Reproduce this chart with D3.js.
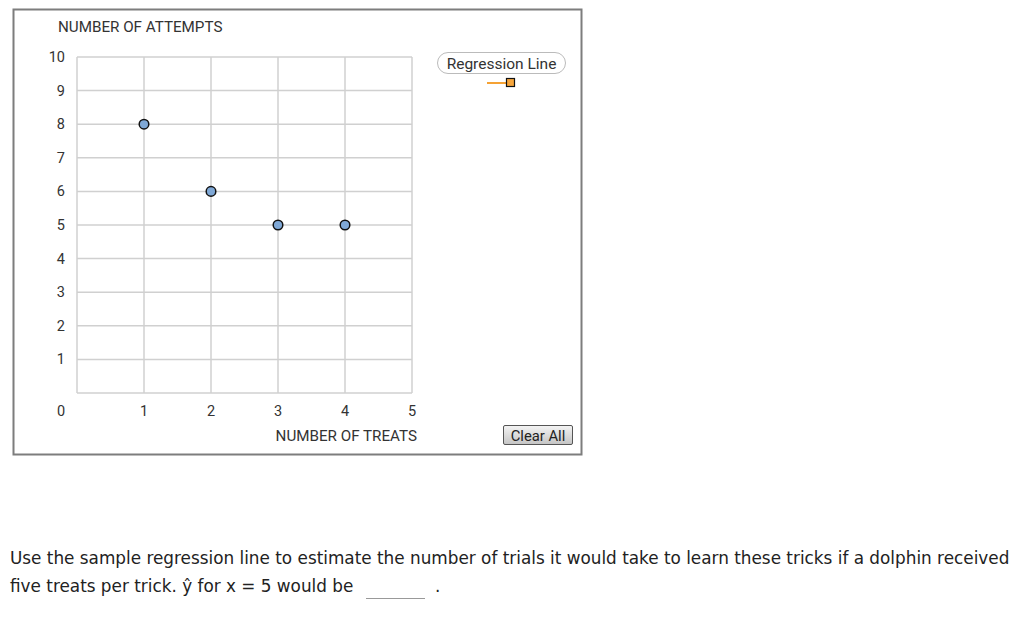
<!DOCTYPE html>
<html>
<head>
<meta charset="utf-8">
<script src="https://cdn.jsdelivr.net/npm/d3@7"></script>
<style>
  body { margin: 0; background: #fff; }
  svg { display: block; }
</style>
</head>
<body>
<svg id="chart" width="1024" height="644"></svg>
<script>
// data
const treats = [1, 2, 3, 4];
const attempts = [8, 6, 5, 5];
const xTicks = [0, 1, 2, 3, 4, 5];
const yTicks = [1, 2, 3, 4, 5, 6, 7, 8, 9, 10];
const questionLines = [
  "Use the sample regression line to estimate the number of trials it would take to learn these tricks if a dolphin received",
  "five treats per trick."
];

const svg = d3.select("#chart");
const labelFont = "Roboto, 'DejaVu Sans', sans-serif";
const textColor = "#333";

// outer frame
svg.append("rect")
  .attr("x", 13.5).attr("y", 9.5)
  .attr("width", 568).attr("height", 445)
  .attr("fill", "#fff")
  .attr("stroke", "#7d7d7d")
  .attr("stroke-width", 2);

const x = d3.scaleLinear().domain([0, 5]).range([77, 412]);
const y = d3.scaleLinear().domain([0, 10]).range([393, 57]);

const plot = svg.append("g");

// grid
plot.selectAll("line.vgrid")
  .data(xTicks)
  .join("line")
  .attr("class", "vgrid")
  .attr("x1", d => x(d)).attr("x2", d => x(d))
  .attr("y1", y(0)).attr("y2", y(10))
  .attr("stroke", "#d0d0d0")
  .attr("stroke-width", 1.5);

plot.selectAll("line.hgrid")
  .data([0].concat(yTicks))
  .join("line")
  .attr("class", "hgrid")
  .attr("x1", x(0)).attr("x2", x(5))
  .attr("y1", d => y(d)).attr("y2", d => y(d))
  .attr("stroke", "#d0d0d0")
  .attr("stroke-width", 1.5);

// y tick labels
plot.selectAll("text.ytick")
  .data(yTicks)
  .join("text")
  .attr("class", "ytick")
  .attr("x", 65)
  .attr("y", d => y(d) + 5)
  .attr("text-anchor", "end")
  .attr("font-family", labelFont)
  .attr("font-size", 14.5)
  .attr("fill", textColor)
  .text(d => d);

// x tick labels (0 sits in the corner)
plot.selectAll("text.xtick")
  .data(xTicks)
  .join("text")
  .attr("class", "xtick")
  .attr("x", d => d === 0 ? 61 : x(d))
  .attr("y", 416)
  .attr("text-anchor", "middle")
  .attr("font-family", labelFont)
  .attr("font-size", 14.5)
  .attr("fill", textColor)
  .text(d => d);

// axis titles
svg.append("text")
  .attr("x", 58).attr("y", 32)
  .attr("font-family", labelFont)
  .attr("font-size", 15.2)
  .attr("fill", textColor)
  .text("NUMBER OF ATTEMPTS");

svg.append("text")
  .attr("x", 417).attr("y", 441)
  .attr("text-anchor", "end")
  .attr("font-family", labelFont)
  .attr("font-size", 15.2)
  .attr("fill", textColor)
  .text("NUMBER OF TREATS");

// points
plot.selectAll("circle.pt")
  .data(treats.map((t, i) => ({ t: t, a: attempts[i] })))
  .join("circle")
  .attr("class", "pt")
  .attr("cx", d => x(d.t))
  .attr("cy", d => y(d.a))
  .attr("r", 4.8)
  .attr("fill", "#7fa8d6")
  .attr("stroke", "#111")
  .attr("stroke-width", 1.5);

// regression line legend
svg.append("rect")
  .attr("x", 437.5).attr("y", 52.5)
  .attr("width", 128).attr("height", 21)
  .attr("rx", 10.5)
  .attr("fill", "#fff")
  .attr("stroke", "#bbb");

svg.append("text")
  .attr("x", 501.5).attr("y", 68.5)
  .attr("text-anchor", "middle")
  .attr("font-family", labelFont)
  .attr("font-size", 15.5)
  .attr("fill", textColor)
  .text("Regression Line");

svg.append("line")
  .attr("x1", 487).attr("x2", 507)
  .attr("y1", 83).attr("y2", 83)
  .attr("stroke", "#f5a234")
  .attr("stroke-width", 2);

svg.append("rect")
  .attr("x", 506.5).attr("y", 78.5)
  .attr("width", 8).attr("height", 8)
  .attr("fill", "#f7a63c")
  .attr("stroke", "#111")
  .attr("stroke-width", 1.2);

// clear all button
const grad = svg.append("defs").append("linearGradient")
  .attr("id", "btn").attr("x1", 0).attr("y1", 0).attr("x2", 0).attr("y2", 1);
grad.append("stop").attr("offset", "0%").attr("stop-color", "#f4f4f4");
grad.append("stop").attr("offset", "100%").attr("stop-color", "#c4c4c4");

svg.append("rect")
  .attr("x", 503.5).attr("y", 425.5)
  .attr("width", 69).attr("height", 19)
  .attr("rx", 1.5)
  .attr("fill", "url(#btn)")
  .attr("stroke", "#555");

svg.append("text")
  .attr("x", 538).attr("y", 440.5)
  .attr("text-anchor", "middle")
  .attr("font-family", labelFont)
  .attr("font-size", 14.8)
  .attr("fill", "#222")
  .text("Clear All");

// question text
const qFont = "'DejaVu Sans', Verdana, sans-serif";
const qSize = 16.85;
svg.append("text")
  .attr("x", 10).attr("y", 564)
  .attr("font-family", qFont)
  .attr("font-size", qSize)
  .attr("fill", "#222")
  .text(questionLines[0]);

const line2 = svg.append("text")
  .attr("x", 10).attr("y", 592)
  .attr("font-family", qFont)
  .attr("font-size", qSize)
  .attr("fill", "#222");
line2.append("tspan").text(questionLines[1] + " ");
line2.append("tspan").text("\u0177");
line2.append("tspan").text(" for x = 5 would be");

svg.append("line")
  .attr("x1", 366).attr("x2", 425)
  .attr("y1", 598.5).attr("y2", 598.5)
  .attr("stroke", "#999");

svg.append("text")
  .attr("x", 435).attr("y", 592)
  .attr("font-family", qFont)
  .attr("font-size", qSize)
  .attr("fill", "#222")
  .text(".");
</script>
</body>
</html>
